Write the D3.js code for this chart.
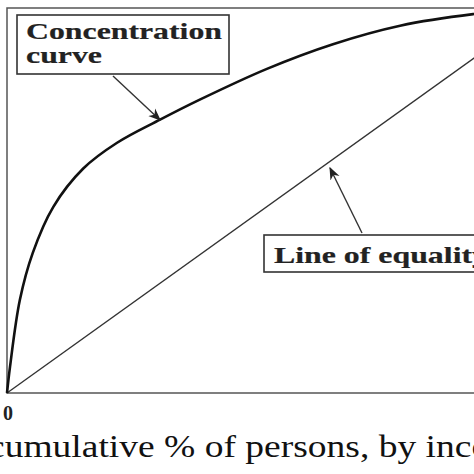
<!DOCTYPE html>
<html><head><meta charset="utf-8">
<script src="https://cdn.jsdelivr.net/npm/d3@7"></script>
<style>body{margin:0;background:#fff}svg{display:block}</style>
</head><body>
<svg id="c" width="474" height="474"></svg>
<script>
const curveX = [0, 0.56, 2.4, 4.8, 8.6, 14.2, 20.5, 28.5, 35.9, 48.4, 60.7, 73.2, 86.8, 100];
const curveY = [0, 6.8, 24.2, 36.4, 48.3, 58.3, 65.0, 71.0, 76.2, 84.2, 90.6, 95.4, 98.4, 100];
const equalityX = [0, 100];
const equalityY = [0, 100];
const labels = ["Concentration", "curve", "Line of equality", "0", "cumulative % of persons, by income"];

const svg = d3.select("#c");
const x = d3.scaleLinear().domain([0,100]).range([7,544]);
const y = d3.scaleLinear().domain([0,100]).range([393,8]);
const font = "'Liberation Serif', 'DejaVu Serif', serif";

svg.append("defs").append("marker").attr("id","ah").attr("viewBox","0 0 10 10")
  .attr("refX",9).attr("refY",5).attr("markerWidth",9).attr("markerHeight",9).attr("orient","auto")
  .append("path").attr("d","M0,1 L10,5 L0,9 L3,5 Z").attr("fill","#222");

svg.append("rect").attr("x",x(0)).attr("y",y(100)).attr("width",x(100)-x(0)).attr("height",y(0)-y(100))
  .attr("fill","none").attr("stroke","#555").attr("stroke-width",1.5);

const line = d3.line().x(d=>x(d[0])).y(d=>y(d[1]));
svg.append("path").datum(equalityX.map((v,i)=>[v,equalityY[i]])).attr("d",line)
  .attr("fill","none").attr("stroke","#333").attr("stroke-width",1.4);
svg.append("path").datum(curveX.map((v,i)=>[v,curveY[i]])).attr("d",line.curve(d3.curveCatmullRom))
  .attr("fill","none").attr("stroke","#111").attr("stroke-width",2.6);

// label boxes
svg.append("rect").attr("x",17).attr("y",15).attr("width",212).attr("height",59)
  .attr("fill","#fff").attr("stroke","#333").attr("stroke-width",1.6);
const t = (xx,yy,s,len)=>svg.append("text").attr("class","lab").attr("x",xx).attr("y",yy).text(s)
  .attr("textLength",len).attr("lengthAdjust","spacingAndGlyphs");
t(26,39,labels[0],196);
t(26,63,labels[1],76);
svg.append("rect").attr("x",264).attr("y",235).attr("width",240).attr("height",37)
  .attr("fill","#fff").attr("stroke","#333").attr("stroke-width",1.6);
t(274,263,labels[2],214);
svg.selectAll("text.lab").attr("font-family",font).attr("font-size",23).attr("fill","#222")
  .attr("font-weight","bold").attr("stroke","#222").attr("stroke-width",0.2);

svg.append("line").attr("x1",113).attr("y1",76).attr("x2",160).attr("y2",120)
  .attr("stroke","#333").attr("stroke-width",1.4).attr("marker-end","url(#ah)");
svg.append("line").attr("x1",362).attr("y1",233).attr("x2",330).attr("y2",168)
  .attr("stroke","#333").attr("stroke-width",1.4).attr("marker-end","url(#ah)");

svg.append("text").attr("x",8).attr("y",420).attr("text-anchor","middle").attr("font-family",font)
  .attr("font-size",20).attr("font-weight","bold").attr("fill","#222").text(labels[3]);
svg.append("text").attr("x",-12).attr("y",457).attr("font-family",font)
  .attr("font-size",32).attr("fill","#111").attr("textLength",548).attr("lengthAdjust","spacingAndGlyphs")
  .text(labels[4]);
</script>
</body></html>
